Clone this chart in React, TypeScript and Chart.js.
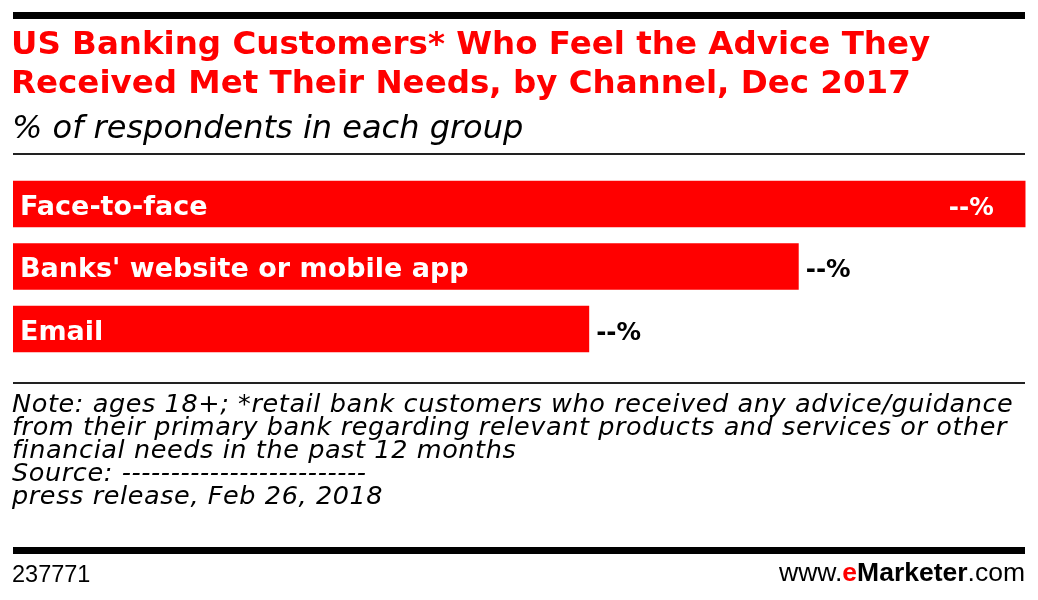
import React, { useEffect, useRef } from "react";
import { Chart, registerables } from "chart.js";

Chart.register(...registerables);

const titleLines = [
  "US Banking Customers* Who Feel the Advice They",
  "Received Met Their Needs, by Channel, Dec 2017",
];
const subtitle = "% of respondents in each group";
const categories = ["Face-to-face", "Banks' website or mobile app", "Email"];
const values = [58, 45, 33];
const valueLabels = ["--%", "--%", "--%"];
const noteLines = [
  "Note: ages 18+; *retail bank customers who received any advice/guidance",
  "from their primary bank regarding relevant products and services or other",
  "financial needs in the past 12 months",
  "Source: -------------------------",
  "press release, Feb 26, 2018",
];
const chartId = "237771";

const RED = "#ff0000";
const BAR_FONT = "bold 27px 'DejaVu Sans'";
const VAL_FONT = "bold 24.5px 'DejaVu Sans'";

const labelPlugin = {
  id: "barLabels",
  afterDatasetsDraw(chart: any) {
    const ctx = chart.ctx;
    const meta = chart.getDatasetMeta(0);
    const area = chart.chartArea;
    ctx.save();
    meta.data.forEach((el: any, i: number) => {
      const y = el.y + 10.5;
      ctx.font = BAR_FONT;
      ctx.fillStyle = "#ffffff";
      ctx.textAlign = "left";
      ctx.textBaseline = "alphabetic";
      ctx.fillText(categories[i], el.base + 7, y);
      ctx.font = VAL_FONT;
      const w = ctx.measureText(valueLabels[i]).width;
      if (el.x + 7 + w > area.right) {
        ctx.fillStyle = "#ffffff";
        ctx.textAlign = "right";
        ctx.fillText(valueLabels[i], el.x - 32, y);
      } else {
        ctx.fillStyle = "#000000";
        ctx.textAlign = "left";
        ctx.fillText(valueLabels[i], el.x + 7, y);
      }
    });
    ctx.restore();
  },
};

export default function App() {
  const canvasRef = useRef<HTMLCanvasElement | null>(null);

  useEffect(() => {
    if (!canvasRef.current) return;
    const chart = new Chart(canvasRef.current, {
      type: "bar",
      data: {
        labels: categories,
        datasets: [
          {
            data: values,
            backgroundColor: RED,
            borderWidth: 0,
            barPercentage: 0.744,
            categoryPercentage: 1,
          },
        ],
      },
      options: {
        indexAxis: "y",
        responsive: false,
        animation: false,
        layout: { padding: { left: 13, right: 12.3, top: 172.75, bottom: 239.75 } },
        scales: {
          x: { display: false, min: 0, max: 58 },
          y: { display: false },
        },
        plugins: {
          legend: { display: false },
          tooltip: { enabled: false },
          title: { display: false },
        },
      },
      plugins: [labelPlugin],
    } as any);
    return () => chart.destroy();
  }, []);

  const line = (top: number, height: number, color: string) => (
    <div
      style={{
        position: "absolute",
        left: 13,
        width: 1012,
        top,
        height,
        background: color,
      }}
    />
  );

  return (
    <div
      style={{
        position: "absolute",
        left: 0,
        top: 0,
        width: 1038,
        height: 600,
        background: "#fff",
        overflow: "hidden",
      }}
    >
      <canvas
        ref={canvasRef}
        width={1038}
        height={600}
        style={{ position: "absolute", left: 0, top: 0, width: 1038, height: 600 }}
      />
      {line(12, 7, "#000")}
      <div
        style={{
          position: "absolute",
          left: 11,
          top: 24,
          font: "bold 32.5px 'DejaVu Sans'",
          lineHeight: "39px",
          color: RED,
          whiteSpace: "pre",
        }}
      >
        {titleLines.join("\n")}
      </div>
      <div
        style={{
          position: "absolute",
          left: 12,
          top: 106.5,
          font: "italic 32px 'DejaVu Sans'",
          lineHeight: "40px",
          color: "#000",
          whiteSpace: "pre",
        }}
      >
        {subtitle}
      </div>
      {line(153, 2, "#222")}
      {line(382, 2, "#222")}
      <div
        style={{
          position: "absolute",
          left: 12,
          top: 392,
          font: "italic 25.5px 'DejaVu Sans'",
          lineHeight: "23px",
          letterSpacing: "0.6px",
          color: "#000",
          whiteSpace: "pre",
        }}
      >
        {noteLines.join("\n")}
      </div>
      {line(547, 7, "#000")}
      <div
        style={{
          position: "absolute",
          left: 12,
          top: 560,
          font: "23.5px 'Liberation Sans'",
          lineHeight: "28px",
          color: "#000",
        }}
      >
        {chartId}
      </div>
      <div
        style={{
          position: "absolute",
          right: 13,
          top: 558,
          font: "26.5px 'Liberation Sans'",
          lineHeight: "28px",
          color: "#000",
          whiteSpace: "pre",
        }}
      >
        www.<b style={{ color: RED }}>e</b>
        <b>Marketer</b>.com
      </div>
    </div>
  );
}
